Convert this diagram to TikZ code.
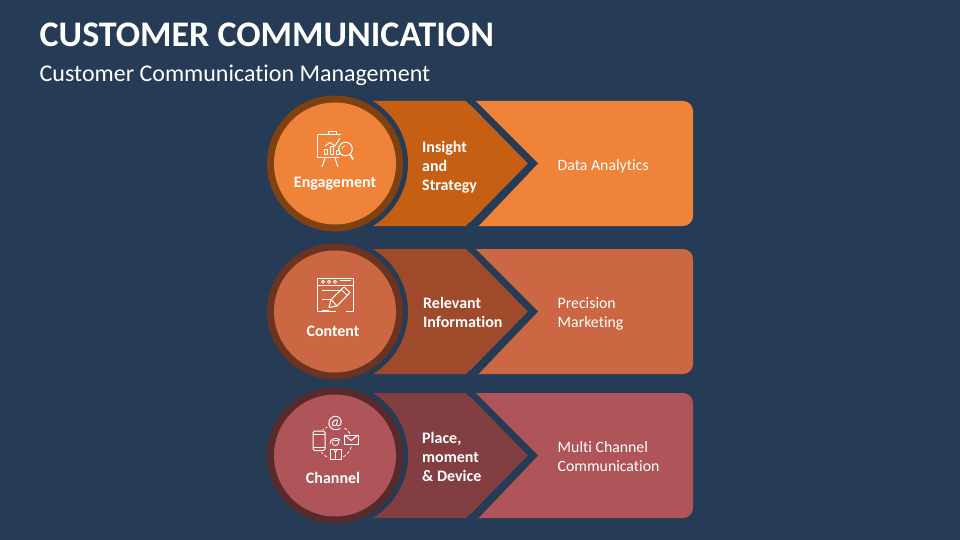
\documentclass[tikz,border=0pt]{standalone}
\usepackage{fontspec}
\setmainfont{Carlito}[Ligatures=NoCommon]
\definecolor{bgc}{HTML}{253B56}
\definecolor{aL}{HTML}{EE8339}\definecolor{aD}{HTML}{C55F14}\definecolor{aR}{HTML}{7F410F}
\definecolor{bL}{HTML}{CB6843}\definecolor{bD}{HTML}{9F4B2B}\definecolor{bR}{HTML}{6C3420}
\definecolor{cL}{HTML}{AF5459}\definecolor{cD}{HTML}{823E41}\definecolor{cR}{HTML}{572A2C}
\tikzset{
  x=1pt,y=-1pt,
  lab/.style={text=white,align=left,anchor=west,inner sep=0pt,font=\fontsize{16}{19.2}\selectfont\bfseries},
  captxt/.style={text=white,align=center,anchor=center,inner sep=0pt,font=\fontsize{16}{19}\selectfont\bfseries},
  desc/.style={text=white,align=left,anchor=west,inner sep=0pt,font=\fontsize{15.8}{19.2}\selectfont},
  ico/.style={draw=white,line width=1pt,fill=none,line join=round},
}
\newcommand{\rowshape}[4]{%
  \begin{scope}[yshift=-#1pt]
    \fill[#2] (470,0) -- (683,0) arc[start angle=-90,end angle=0,radius=10] -- (693,115) arc[start angle=0,end angle=90,radius=10] -- (470,125) -- cycle;
    \fill[#3] (335,0) -- (466,0) -- (528,62.5) -- (466,125) -- (335,125) -- cycle;
    \fill[bgc] (466,-0.5) -- (475,-0.5) -- (538,62.5) -- (478,125.5) -- (466,125.5) -- (528,62.5) -- cycle;
    \fill[bgc] (335,62.5) circle[radius=73];
    \fill[#4] (335,62.5) circle[radius=68];
    \fill[#2] (335,62.5) circle[radius=61];
  \end{scope}%
}
\begin{document}
\begin{tikzpicture}
\useasboundingbox (0,0) rectangle (960,540);
\fill[bgc] (0,0) rectangle (960,540);
\node[anchor=west,inner sep=0pt,text=white,font=\fontsize{36}{40}\selectfont\bfseries] (title) at (39.5,34.5) {CUSTOMER COMMUNICATION};
\node[anchor=west,inner sep=0pt,text=white,font=\fontsize{24}{28}\selectfont] (subtitle) at (39.5,75) {Customer Communication Management};

\rowshape{101}{aL}{aD}{aR}
\rowshape{249}{bL}{bD}{bR}
\rowshape{393}{cL}{cD}{cR}

\node[captxt] (c1) at (335,183.5) {Engagement};
\node[lab] (l1) at (422,167) {Insight\\and\\Strategy};
\node[desc] (d1) at (557.5,166.5) {Data Analytics};

\node[captxt] (c2) at (333,331.5) {Content};
\node[lab] (l2) at (423,312.5) {Relevant\\Information};
\node[desc] (d2) at (557.5,314) {Precision\\Marketing};

\node[captxt] (c3) at (333,477.5) {Channel};
\node[lab] (l3) at (422,457) {Place,\\moment\\\& Device};
\node[desc] (d3) at (557.5,456.5) {Multi Channel\\Communication};

% icon 1: presentation board with magnifier
\draw[ico] (341,134.5) -- (317.5,134.5) -- (317.5,158) -- (339,158);
\draw[ico] (328,134.5) -- (328,131.5) -- (336,131.5) -- (336,134.5);
\draw[ico] (325,158) -- (322,167);
\draw[ico] (335,158) -- (338,167);
\draw[ico] (324.5,155) rectangle (327.5,150);
\draw[ico] (330.5,155) rectangle (333.5,147);
\draw[ico] (336.5,155) rectangle (339.5,150.5);
\draw[ico] (325,146) -- (330,142.5) -- (335,146) -- (340,138);
\draw[ico] (345.5,149) circle[radius=6.8];
\draw[ico,line width=1.6pt] (350,154) -- (353,159.5);
\draw[ico,line width=0.7pt] (342,149) arc[start angle=180,end angle=270,radius=3.2];

% icon 2: window with pencil
\draw[ico] (336,311.5) -- (317.5,311.5) -- (317.5,278.5) -- (353,278.5) -- (353,311.5) -- (346,311.5);
\draw[ico] (317.5,285) -- (353,285);
\foreach \px in {323,329,335} \draw[ico,line width=0.8pt] (\px,281.8) circle[radius=1.6];
\draw[ico,line width=0.8pt] (340,280.8) -- (351,280.8);
\draw[ico] (322,290) -- (340,290);
\draw[ico] (322,299.5) -- (331,299.5);
\draw[ico] (322,310) -- (329,310);
\draw[ico] (329,307.5) -- (331,299.5) -- (344,287) -- (350,292.5) -- (337,306) -- cycle;
\draw[ico] (331,299.5) -- (337,306);
\draw[ico,line width=0.8pt] (341,289.5) -- (347,295);

% icon 3: channels
\draw[ico,densely dashed,line width=0.7pt] (335,442) circle[radius=17];
\fill[cL] (335,423) circle[radius=8.5];
\fill[cL] (312,430) rectangle (326,451.5);
\fill[cL] (343.5,434) rectangle (359,445.5);
\fill[cL] (329,436) rectangle (342,460);
\node[inner sep=0pt,text=white,font=\fontsize{19}{20}\selectfont] (at) at (335,423) {@};
\draw[ico,rounded corners=1.5pt] (313,431) rectangle (325,450.5);
\draw[ico,line width=0.8pt] (313,434) -- (325,434);
\draw[ico,line width=0.8pt] (313,447) -- (325,447);
\draw[ico] (344.5,435) rectangle (358,444.5);
\draw[ico] (344.5,435) -- (351.2,440.5) -- (358,435);
\draw[ico] (330,449) rectangle (341,459.5);
\draw[ico,line width=0.8pt] (334,449) -- (335.5,453) -- (337,449);
\draw[ico,line width=0.8pt] (335.5,453) -- (335.5,459.5);
\draw[ico,line width=0.8pt] (330,444) .. controls (329,438) and (338,437) .. (340,440) -- (332,441);
\draw[ico,line width=0.8pt] (332,442) .. controls (332,447) and (339,447) .. (339,441);
\end{tikzpicture}
\end{document}
